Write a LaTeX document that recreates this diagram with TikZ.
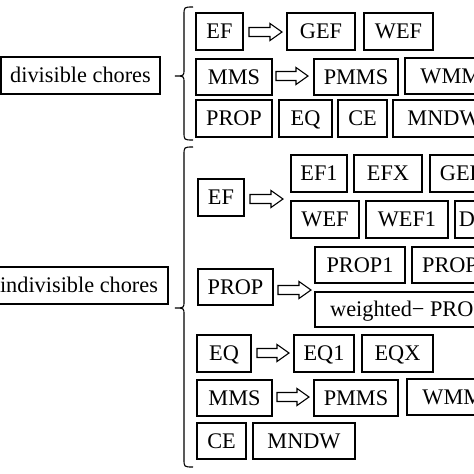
\documentclass[tikz,border=0pt]{standalone}
\usepackage{fontspec}
\setmainfont{Liberation Serif}
\tikzset{
  box/.style={draw, line width=1.2pt, inner sep=0pt, text height=14.7pt, text depth=0pt, font=\fontsize{22.3}{25}\selectfont},
  blockarrow/.style={draw, line width=1.1pt, line join=miter},
  bracepath/.style={draw, line width=1.1pt}
}
\newcommand{\bx}[6]{\node[box, minimum width={(#4)-(#2)}, minimum height={(#5)-(#3)}] (#1) at ({((#2)+(#4))/2},{((#3)+(#5))/2}) {#6};}
% block arrow: start x, end x, centre y
\newcommand{\barr}[3]{\draw[blockarrow] (#1,#3-4.5) -- (#2-12,#3-4.5) -- (#2-12,#3-8.5) -- (#2,#3) -- (#2-12,#3+8.5) -- (#2-12,#3+4.5) -- (#1,#3+4.5) -- cycle;}
\begin{document}
\begin{tikzpicture}[x=1pt,y=-1pt]
\useasboundingbox (0,0) rectangle (474,474);
\clip (0,0) rectangle (474,474);
% left labels
\bx{div}{1}{57}{160}{94}{divisible chores}
\bx{indiv}{-10}{267}{168}{304}{indivisible chores}
% braces
\coordinate (b1t) at (193,7);
\coordinate (b1m) at (175,76);
\coordinate (b1b) at (193,140);
\draw[bracepath] (b1t) .. controls (184,7) .. (184,15) -- (184,69) .. controls (184,76) .. (b1m) .. controls (184,76) .. (184,83) -- (184,132) .. controls (184,140) .. (b1b);
\coordinate (b2t) at (193,147);
\coordinate (b2m) at (175,308);
\coordinate (b2b) at (193,467);
\draw[bracepath] (b2t) .. controls (184,147) .. (184,155) -- (184,301) .. controls (184,308) .. (b2m) .. controls (184,308) .. (184,315) -- (184,459) .. controls (184,467) .. (b2b);
% divisible
\bx{ef}{196}{13}{243}{50}{EF}
\bx{gef}{287}{13}{355}{50}{GEF}
\bx{wef}{364}{13}{433}{50}{WEF}
\barr{249}{282}{32}
\bx{mms}{196}{59}{272}{95}{MMS}
\bx{pmms}{314}{59}{398}{95}{PMMS}
\bx{wmms}{405}{58}{509}{94}{WMMS}
\barr{276}{308}{76}
\bx{prop}{196}{100}{272}{137}{PROP}
\bx{eq}{279}{100}{332}{137}{EQ}
\bx{ce}{338}{100}{387}{137}{CE}
\bx{mndw}{393}{100}{495}{137}{MNDW}
% indivisible
\bx{ief}{198}{179}{244}{216}{EF}
\barr{250}{283}{199}
\bx{ief1}{291}{155}{347}{192}{EF1}
\bx{iefx}{354}{155}{422}{192}{EFX}
\bx{igef}{430}{155}{492}{192}{GEF}
\bx{iwef}{291}{201}{359}{238}{WEF}
\bx{iwef1}{366}{201}{448}{238}{WEF1}
\bx{id}{455}{201}{479}{238}{D}
\bx{iprop}{198}{269}{273}{305}{PROP}
\barr{278}{311}{290}
\bx{iprop1}{315}{247}{405}{283}{PROP1}
\bx{iprop2}{412}{247}{488}{283}{PROP}
\bx{iwprop}{315}{292}{501}{327}{weighted− PROP}
\bx{ieq}{197}{335}{251}{372}{EQ}
\barr{257}{289}{353}
\bx{ieq1}{294}{335}{354}{372}{EQ1}
\bx{ieqx}{362}{335}{433}{372}{EQX}
\bx{imms}{197}{380}{272}{416}{MMS}
\barr{277}{309}{397}
\bx{ipmms}{314}{380}{398}{416}{PMMS}
\bx{iwmms}{407}{379}{511}{415}{WMMS}
\bx{ice}{197}{423}{246}{459}{CE}
\bx{imndw}{253}{423}{355}{459}{MNDW}
\end{tikzpicture}
\end{document}
